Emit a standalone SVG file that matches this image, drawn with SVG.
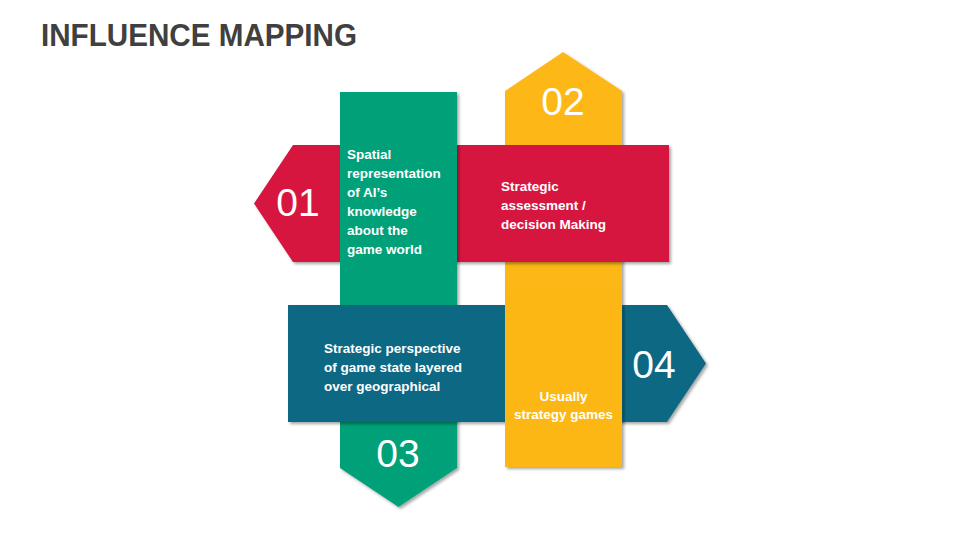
<svg xmlns="http://www.w3.org/2000/svg" width="960" height="540" viewBox="0 0 960 540">
  <defs>
    <filter id="sh" x="-10%" y="-10%" width="125%" height="125%">
      <feDropShadow dx="2" dy="2" stdDeviation="1.5" flood-color="#000" flood-opacity="0.35"/>
    </filter>
    <filter id="bl" x="-50%" y="-10%" width="200%" height="120%">
      <feGaussianBlur stdDeviation="1"/>
    </filter>
  </defs>
  <style>
    .title{font-family:"Liberation Sans",Arial,sans-serif;font-weight:bold;font-size:32px;fill:#404040}
    .txt{font-family:"Liberation Sans",Arial,sans-serif;font-weight:bold;font-size:13.5px;fill:#ffffff}
    .num{font-family:"Liberation Sans",Arial,sans-serif;font-size:39px;fill:#ffffff;text-anchor:middle}
    .green{fill:#06A078}
    .red{fill:#D71440}
    .yellow{fill:#FDB714}
    .blue{fill:#0F6784}
    .s{filter:url(#sh)}
  </style>
  <rect width="960" height="540" fill="#ffffff"/>
  <text class="title" x="41" y="46" textLength="316" lengthAdjust="spacingAndGlyphs">INFLUENCE MAPPING</text>

  <g id="connectors"/>

  <g id="node-02">
    <polygon class="yellow s" points="505,91 563,52 622,91 622,467 505,467"/>
    <text class="num" x="563" y="115">02</text>
  </g>

  <g id="node-01">
    <polygon class="red s" points="254,203.5 293,145 669,145 669,262 293,262"/>
    <text class="num" x="298" y="216">01</text>
    <text class="txt" x="501" y="191">Strategic</text>
    <text class="txt" x="501" y="210">assessment /</text>
    <text class="txt" x="501" y="229">decision Making</text>
  </g>

  <g id="node-03">
    <polygon class="green s" points="340,92 457,92 457,468 398.5,507 340,468"/>
    <text class="txt" x="347" y="159">Spatial</text>
    <text class="txt" x="347" y="178">representation</text>
    <text class="txt" x="347" y="197">of AI’s</text>
    <text class="txt" x="347" y="216">knowledge</text>
    <text class="txt" x="347" y="235">about the</text>
    <text class="txt" x="347" y="254">game world</text>
    <text class="num" x="398" y="467">03</text>
  </g>

  <g id="node-04">
    <polygon class="blue s" points="288,305 667,305 706,363.5 667,422 288,422"/>
    <text class="txt" x="324" y="353">Strategic perspective</text>
    <text class="txt" x="324" y="372">of game state layered</text>
    <text class="txt" x="324" y="391">over geographical</text>
    <text class="num" x="654" y="378">04</text>
  </g>

  <g id="node-02-front">
    <rect x="622" y="306" width="2.5" height="117" fill="#000" opacity="0.3" filter="url(#bl)"/>
    <rect class="yellow" x="505" y="290" width="117" height="177"/>
    <text class="txt" x="563.5" y="401" text-anchor="middle">Usually</text>
    <text class="txt" x="563.5" y="419" text-anchor="middle">strategy games</text>
  </g>
</svg>
